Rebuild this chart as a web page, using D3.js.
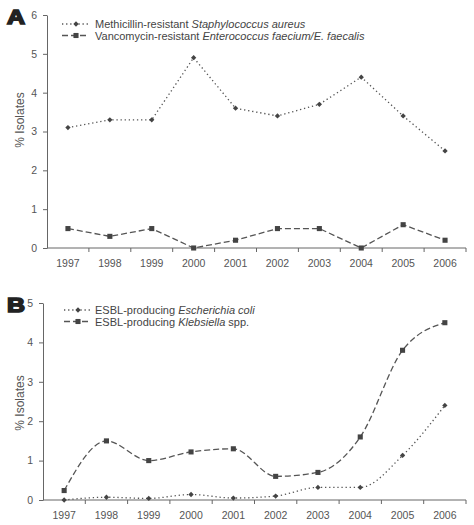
<!DOCTYPE html>
<html>
<head>
<meta charset="utf-8">
<script src="https://cdn.jsdelivr.net/npm/d3@7"></script>
<style>
  body { margin: 0; background: #fff; }
  svg { font-family: "Liberation Sans", Arial, sans-serif; }
  .axis path, .axis line { stroke: #666; }
  .axis text { fill: #555; font-size: 10.5px; }
</style>
</head>
<body>
<div id="chart"></div>
<script>
// Years shared by both panels
const years = ["1997", "1998", "1999", "2000", "2001", "2002", "2003", "2004", "2005", "2006"];

// Panel A series (% isolates)
const mrsaValues = [3.1, 3.3, 3.3, 4.9, 3.6, 3.4, 3.7, 4.4, 3.4, 2.5];
const vreValues = [0.5, 0.3, 0.5, 0.0, 0.2, 0.5, 0.5, 0.0, 0.6, 0.2];

// Panel B series (% isolates)
const ecoliValues = [0.0, 0.07, 0.04, 0.14, 0.05, 0.1, 0.32, 0.32, 1.13, 2.4];
const klebValues = [0.24, 1.5, 1.0, 1.22, 1.3, 0.6, 0.7, 1.6, 3.8, 4.5];

// Y tick labels
const ticksA = [0, 1, 2, 3, 4, 5, 6];
const ticksB = [0, 1, 2, 3, 4, 5];

const svg = d3.select("#chart").append("svg")
    .attr("width", 474)
    .attr("height", 525);

function drawPanel(cfg) {
    let g = svg.append("g");

    // Scales
    let x = d3.scaleBand().domain(years).range([cfg.left, cfg.right]);
    let y = d3.scaleLinear().domain([0, d3.max(cfg.ticks)]).range([cfg.bottom, cfg.top]);

    // Y axis
    g.append("g")
        .attr("class", "axis")
        .attr("transform", `translate(${cfg.left},0)`)
        .call(d3.axisLeft(y).tickValues(cfg.ticks).tickFormat(d3.format("d"))
            .tickSize(4).tickPadding(6).tickSizeOuter(0));

    // X axis: ticks at band boundaries, labels at band centres
    let xAxis = g.append("g")
        .attr("class", "axis")
        .attr("transform", `translate(0,${cfg.bottom})`);
    xAxis.append("line")
        .attr("x1", cfg.left).attr("x2", cfg.right)
        .attr("stroke", "#666");
    xAxis.selectAll(".tick-mark")
        .data(years)
        .enter().append("line")
        .attr("class", "tick-mark")
        .attr("x1", d => x(d) + x.bandwidth())
        .attr("x2", d => x(d) + x.bandwidth())
        .attr("y1", 0).attr("y2", 4)
        .attr("stroke", "#666");
    xAxis.selectAll("text")
        .data(years)
        .enter().append("text")
        .attr("x", d => x(d) + x.bandwidth() / 2)
        .attr("y", 19)
        .attr("text-anchor", "middle")
        .text(d => d);

    // Y axis title
    g.append("text")
        .attr("transform", `translate(24,${cfg.titleY}) rotate(-90)`)
        .attr("text-anchor", "middle")
        .attr("fill", "#555")
        .attr("font-size", "12px")
        .text("% Isolates");

    // Panel letter
    g.append("text")
        .attr("x", 7)
        .attr("y", cfg.top + 9)
        .attr("font-size", "20px")
        .attr("font-weight", "bold")
        .attr("fill", "#222")
        .attr("stroke", "#222")
        .attr("stroke-width", 1.6)
        .attr("textLength", 18)
        .attr("lengthAdjust", "spacingAndGlyphs")
        .text(cfg.letter);

    // Lines and markers
    cfg.series.forEach((s, si) => {
        let line = d3.line()
            .x((d, i) => x(years[i]) + x.bandwidth() / 2)
            .y(d => y(d))
            .curve(cfg.curve);

        let dash = s.dash === "dot" ? "1.3,2.8" : "6,3";

        g.append("path")
            .datum(s.values)
            .attr("fill", "none")
            .attr("stroke", "#555")
            .attr("stroke-width", 1.3)
            .attr("stroke-dasharray", dash)
            .attr("d", line);

        let sym = d3.symbol().type(d3.symbolSquare).size(s.marker === "diamond" ? 14 : 26);
        let rot = s.marker === "diamond" ? " rotate(45)" : "";

        g.selectAll(".m" + si)
            .data(s.values)
            .enter().append("path")
            .attr("class", "m" + si)
            .attr("transform", (d, i) => `translate(${x(years[i]) + x.bandwidth() / 2},${y(d)})${rot}`)
            .attr("d", sym)
            .attr("fill", "#444");

        // Legend entry
        let ly = cfg.legendY + si * 11.5;
        g.append("line")
            .attr("x1", cfg.legendX).attr("x2", cfg.legendX + 27)
            .attr("y1", ly).attr("y2", ly)
            .attr("stroke", "#555")
            .attr("stroke-width", 1.3)
            .attr("stroke-dasharray", dash);
        g.append("path")
            .attr("transform", `translate(${cfg.legendX + 14},${ly})${rot}`)
            .attr("d", sym)
            .attr("fill", "#444");
        let t = g.append("text")
            .attr("x", 95)
            .attr("y", ly + 4)
            .attr("font-size", "11px")
            .attr("fill", "#444");
        s.label.forEach(part => {
            t.append("tspan")
                .attr("font-style", part[1] ? "italic" : "normal")
                .text(part[0]);
        });
    });
}

drawPanel({
    letter: "A",
    left: 47, right: 466, top: 15, bottom: 248,
    ticks: ticksA,
    titleY: 120,
    legendX: 62, legendY: 24,
    curve: d3.curveLinear,
    series: [
        { values: mrsaValues, dash: "dot", marker: "diamond",
          label: [["Methicillin-resistant ", false], ["Staphylococcus aureus", true]] },
        { values: vreValues, dash: "dash", marker: "square",
          label: [["Vancomycin-resistant ", false], ["Enterococcus faecium/E. faecalis", true]] }
    ]
});

drawPanel({
    letter: "B",
    left: 43, right: 466, top: 303, bottom: 500,
    ticks: ticksB,
    titleY: 403,
    legendX: 64, legendY: 310,
    curve: d3.curveMonotoneX,
    series: [
        { values: ecoliValues, dash: "dot", marker: "diamond",
          label: [["ESBL-producing ", false], ["Escherichia coli", true]] },
        { values: klebValues, dash: "dash", marker: "square",
          label: [["ESBL-producing ", false], ["Klebsiella", true], [" spp.", false]] }
    ]
});
</script>
</body>
</html>
